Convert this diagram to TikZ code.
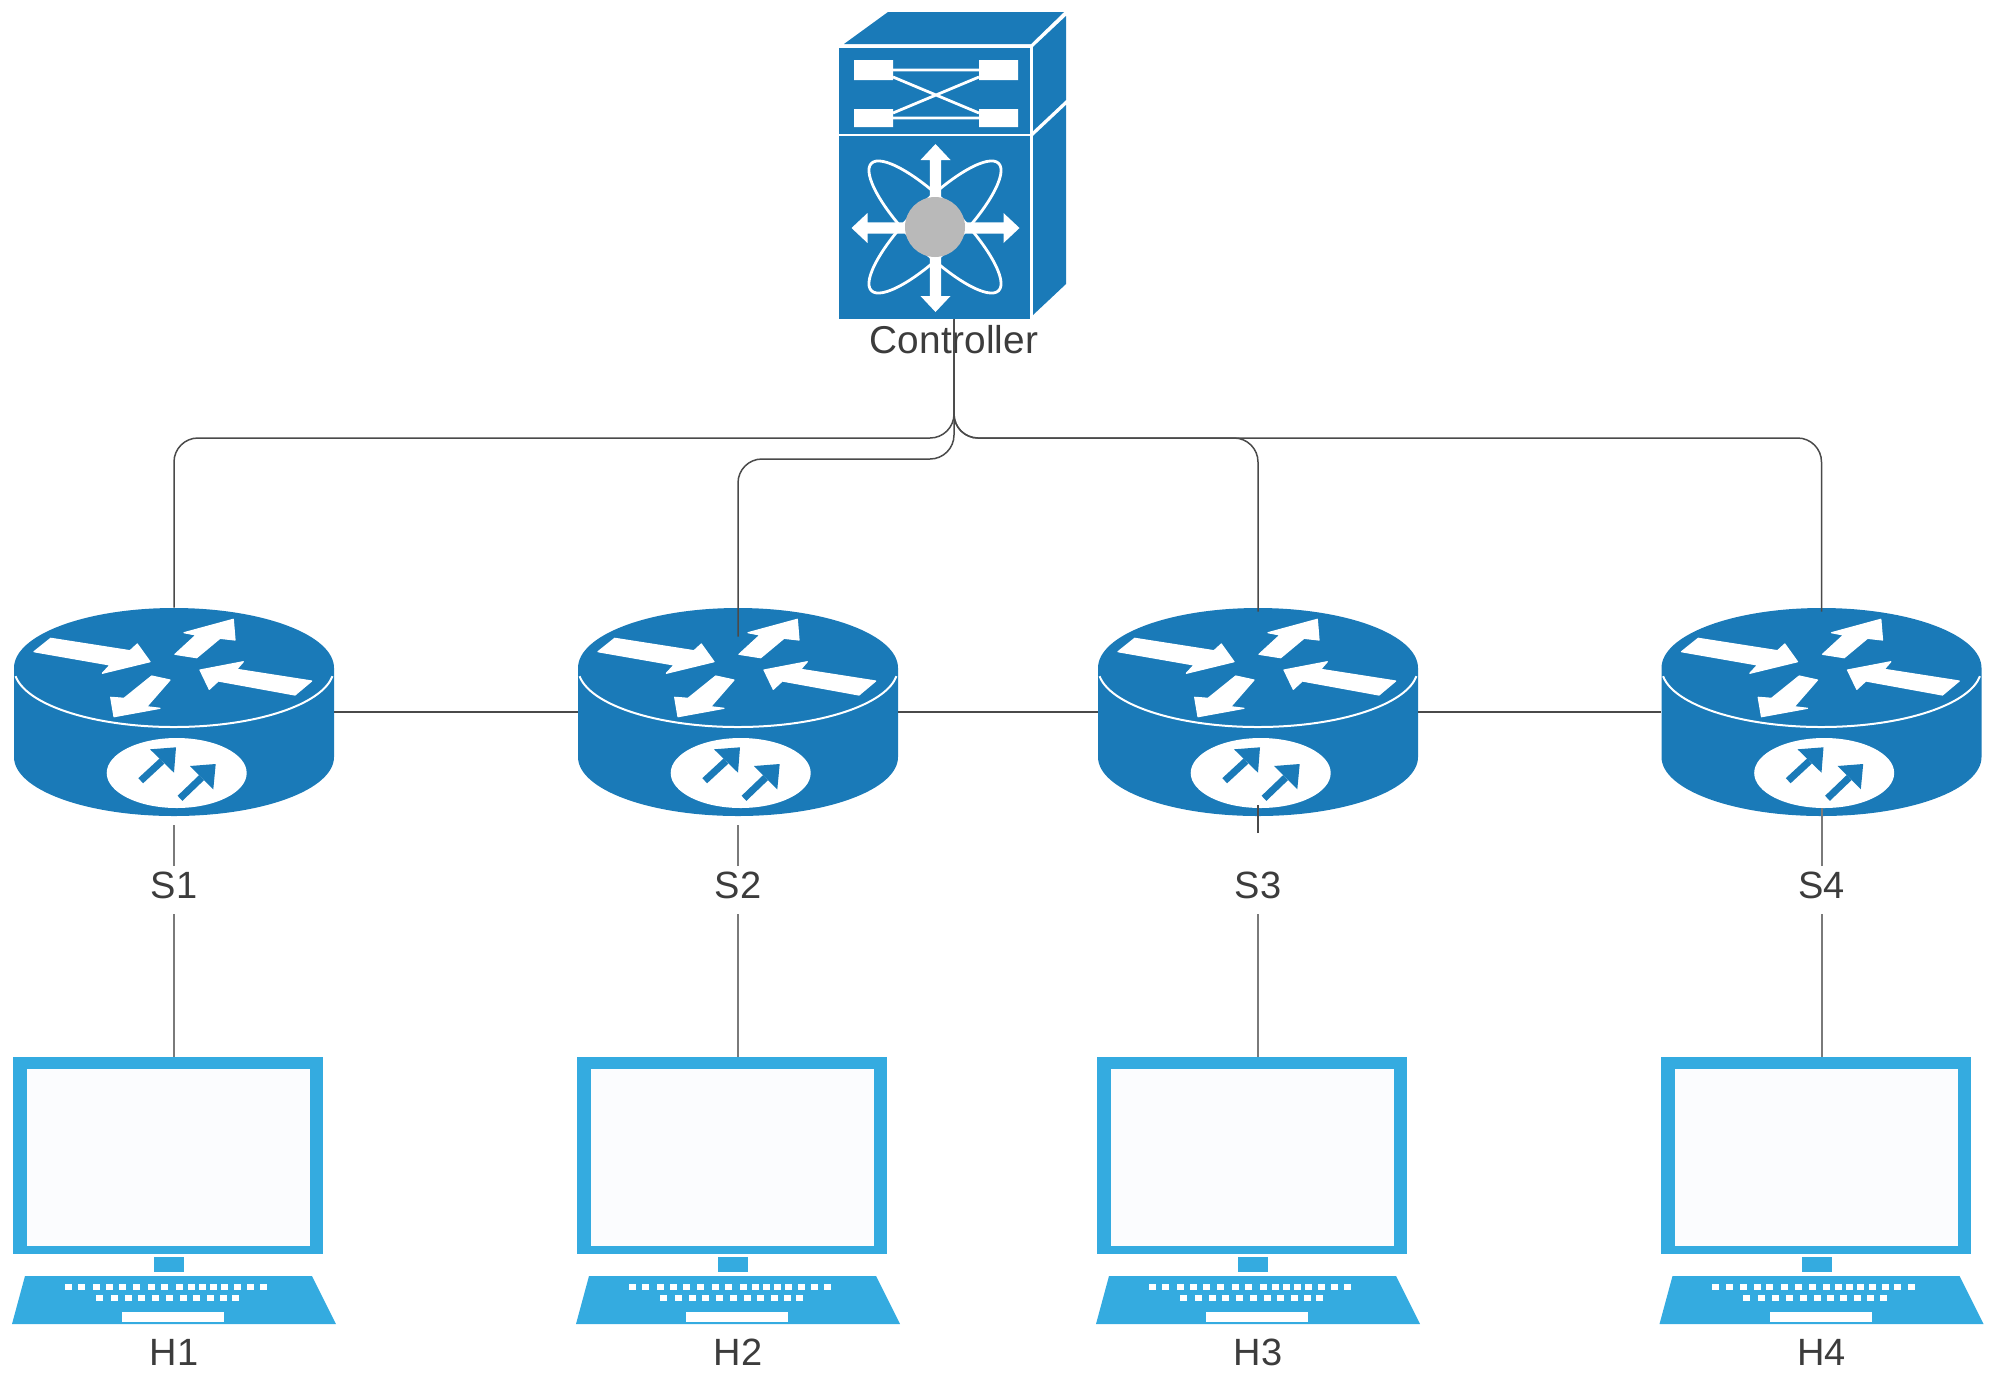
\documentclass[tikz,border=0pt]{standalone}
\usepackage{fontspec}
\setmainfont{Liberation Sans}
\definecolor{icon blue}{HTML}{1A7AB8}
\definecolor{host blue}{HTML}{34ABE0}
\definecolor{screen white}{HTML}{FBFCFE}
\definecolor{link gray}{HTML}{4A4A4A}
\definecolor{soft gray}{HTML}{7A7A7A}
\definecolor{hub gray}{HTML}{B9B9B9}
\definecolor{text gray}{HTML}{3C3C3C}
\tikzset{
    glyph/.style={fill=white,draw=white,line width=0.6pt,line join=round},
    router icon/.pic={
        \fill[icon blue] (-160,0) -- (-160,89) arc[start angle=180,end angle=0,x radius=160,y radius=59]
            -- (160,0) arc[start angle=0,end angle=-180,x radius=160,y radius=60] -- cycle;
        \draw[white,line width=1pt] (0,0) ++(172:160 and 59) arc[start angle=172,end angle=8,x radius=160,y radius=59];
        \path[glyph] (-140,-16.3) -- (-123.3,-29.7) -- (-44,-17.3) -- (-36.7,-24) -- (-24,-6.3)
            -- (-71.7,5.3) -- (-64,-3) -- cycle;
        \path[glyph] (1,-13.7) -- (22,-33) -- (10,-35.3) -- (59.3,-48.7) -- (61,-28)
            -- (46,-29.7) -- (22.7,-10.3) -- cycle;
        \path[glyph] (137.7,13) -- (121,27) -- (44.3,13) -- (35.3,21.3) -- (26,2)
            -- (69.3,-6.3) -- (62.7,1.3) -- cycle;
        \path[glyph] (-60,48.7) -- (-63.3,29.3) -- (-50,30.3) -- (-22.3,8) -- (-4,12)
            -- (-27.3,38.7) -- (-14,40.3) -- cycle;
        \fill[white] (2.7,105) ellipse[x radius=70,y radius=35];
        \draw[icon blue,line width=3.5pt] (-33.3,112.7) -- (-12,93);
        \fill[icon blue] (-24,81.3) -- (2,79.3) -- (0,104.7) -- cycle;
        \draw[icon blue,line width=3.5pt] (6,130.3) -- (27.6,109.6);
        \fill[icon blue] (16,98) -- (41.7,96) -- (39.3,121.3) -- cycle;
    },
    host icon/.pic={
        \fill[host blue] (-161,0) rectangle (149,197);
        \fill[screen white] (-147,12) rectangle (136,189);
        \fill[host blue] (-20,200) rectangle (10,215);
        \fill[host blue] (-149,219) -- (138,219) -- (162,267) -- (-162,267) -- cycle;
        \foreach \k in {-105.7,-92.3,-77.7,-64.3,-51.7,-37.3,-23,-9.3,5.3,17,28,39.3,50.7,63.7,76,89.7}
            \fill[white] (\k-3.5,227) rectangle (\k+3.5,233);
        \foreach \k in {-75,-60,-45.7,-32.3,-18.3,-4.3,9,22.3,36.3,49.3,61.7}
            \fill[white] (\k-3.5,238) rectangle (\k+3.5,244);
        \fill[white] (-52,255) rectangle (50.3,265);
    },
    hub arrow/.pic={
        \fill[white] (-5.7,0) -- (-5.7,-68) -- (-15,-68) -- (0,-84) -- (15,-68) -- (5.7,-68) -- (5.7,0) -- cycle;
    },
}
\begin{document}
\begin{tikzpicture}[x=0.5pt,y=-0.5pt,
        link line/.style={draw=link gray,line width=0.75pt,rounded corners=12pt},
        soft line/.style={draw=soft gray,line width=1pt},
        icon box/.style={inner sep=0pt,minimum width=320*0.5pt,minimum height=208*0.5pt},
        host box/.style={inner sep=0pt,minimum width=324*0.5pt,minimum height=267*0.5pt},
        name label/.style={anchor=base,text=text gray,font=\fontsize{19pt}{19pt}\selectfont,
           inner xsep=0pt,inner ysep=2.5pt,text depth=5.5pt},
    ]
    \useasboundingbox (0,0) rectangle (1992,1377);
    % controller
    \fill[icon blue] (844,44) -- (888,12) -- (1064,12) -- (1031,44) -- cycle;
    \fill[icon blue] (1033,47) -- (1066,16) -- (1066,100) -- (1033,131) -- cycle;
    \fill[icon blue] (1033,136) -- (1066,105) -- (1066,284) -- (1033,315) -- cycle;
    \fill[icon blue] (839,48) rectangle (1030,134);
    \fill[icon blue] (839,136) rectangle (1030,319);
    \fill[white] (854,60) rectangle (893,80) (979,60) rectangle (1018,80)
        (854,109) rectangle (893,127) (979,109) rectangle (1018,127);
    \draw[white,line width=1.4pt]
        (893,70) -- (979,70) (893,118) -- (979,118)
        (893,77) -- (979,113) (893,113) -- (979,77);
    \draw[white,line width=1.4pt] (935,227) ellipse[x radius=90,y radius=25,rotate=45];
    \draw[white,line width=1.4pt] (935,227) ellipse[x radius=90,y radius=25,rotate=-45];
    \foreach \r in {0,90,180,270}
        \pic[rotate=\r] at (935.5,228) {hub arrow};
    \fill[hub gray] (935,227) ellipse[x radius=30,y radius=30];
    \node[name label,font=\fontsize{19.4pt}{19.4pt}\selectfont] (controller) at (954,353) {Controller};
    % switches and hosts
    \foreach \x/\n in {174/1,738/2,1258/3,1821.5/4}{
        \node[icon box] (R\n) at (\x,712) {};
        \pic at (\x,668) {router icon};
        \node[name label] (S\n) at (\x,898) {S\n};
        \node[host box] (W\n) at (\x,1190.5) {};
        \pic at (\x,1057) {host icon};
        \node[name label] (H\n) at (\x,1365) {H\n};
        \draw[soft line] (S\n.south) -- (W\n.north);
    }
    \draw[soft line,shorten >=4.5pt] (S1.north) -- (R1.south);
    \draw[soft line,shorten >=4.5pt] (S2.north) -- (R2.south);
    \draw[link line,shorten <=16.5pt,shorten >=-5.5pt] (S3.north) -- (R3.south);
    \draw[soft line,shorten >=-4pt] (S4.north) -- (R4.south);
    \draw[link line] (R1.east) -- (R2.west);
    \draw[link line] (R2.east) -- (R3.west);
    \draw[link line] (R3.east) -- (R4.west);
    \coordinate (bus) at (954,438);
    \coordinate (bus low) at (954,459);
    \draw[link line] (controller.north) -- (bus) -| (R1.north);
    \draw[link line,shorten >=-14.5pt] (controller.north) -- (bus low) -| (R2.north);
    \draw[link line,shorten >=-2pt] (controller.north) -- (bus) -| (R3.north);
    \draw[link line,shorten >=-2pt] (controller.north) -- (bus) -| (R4.north);
\end{tikzpicture}
\end{document}
